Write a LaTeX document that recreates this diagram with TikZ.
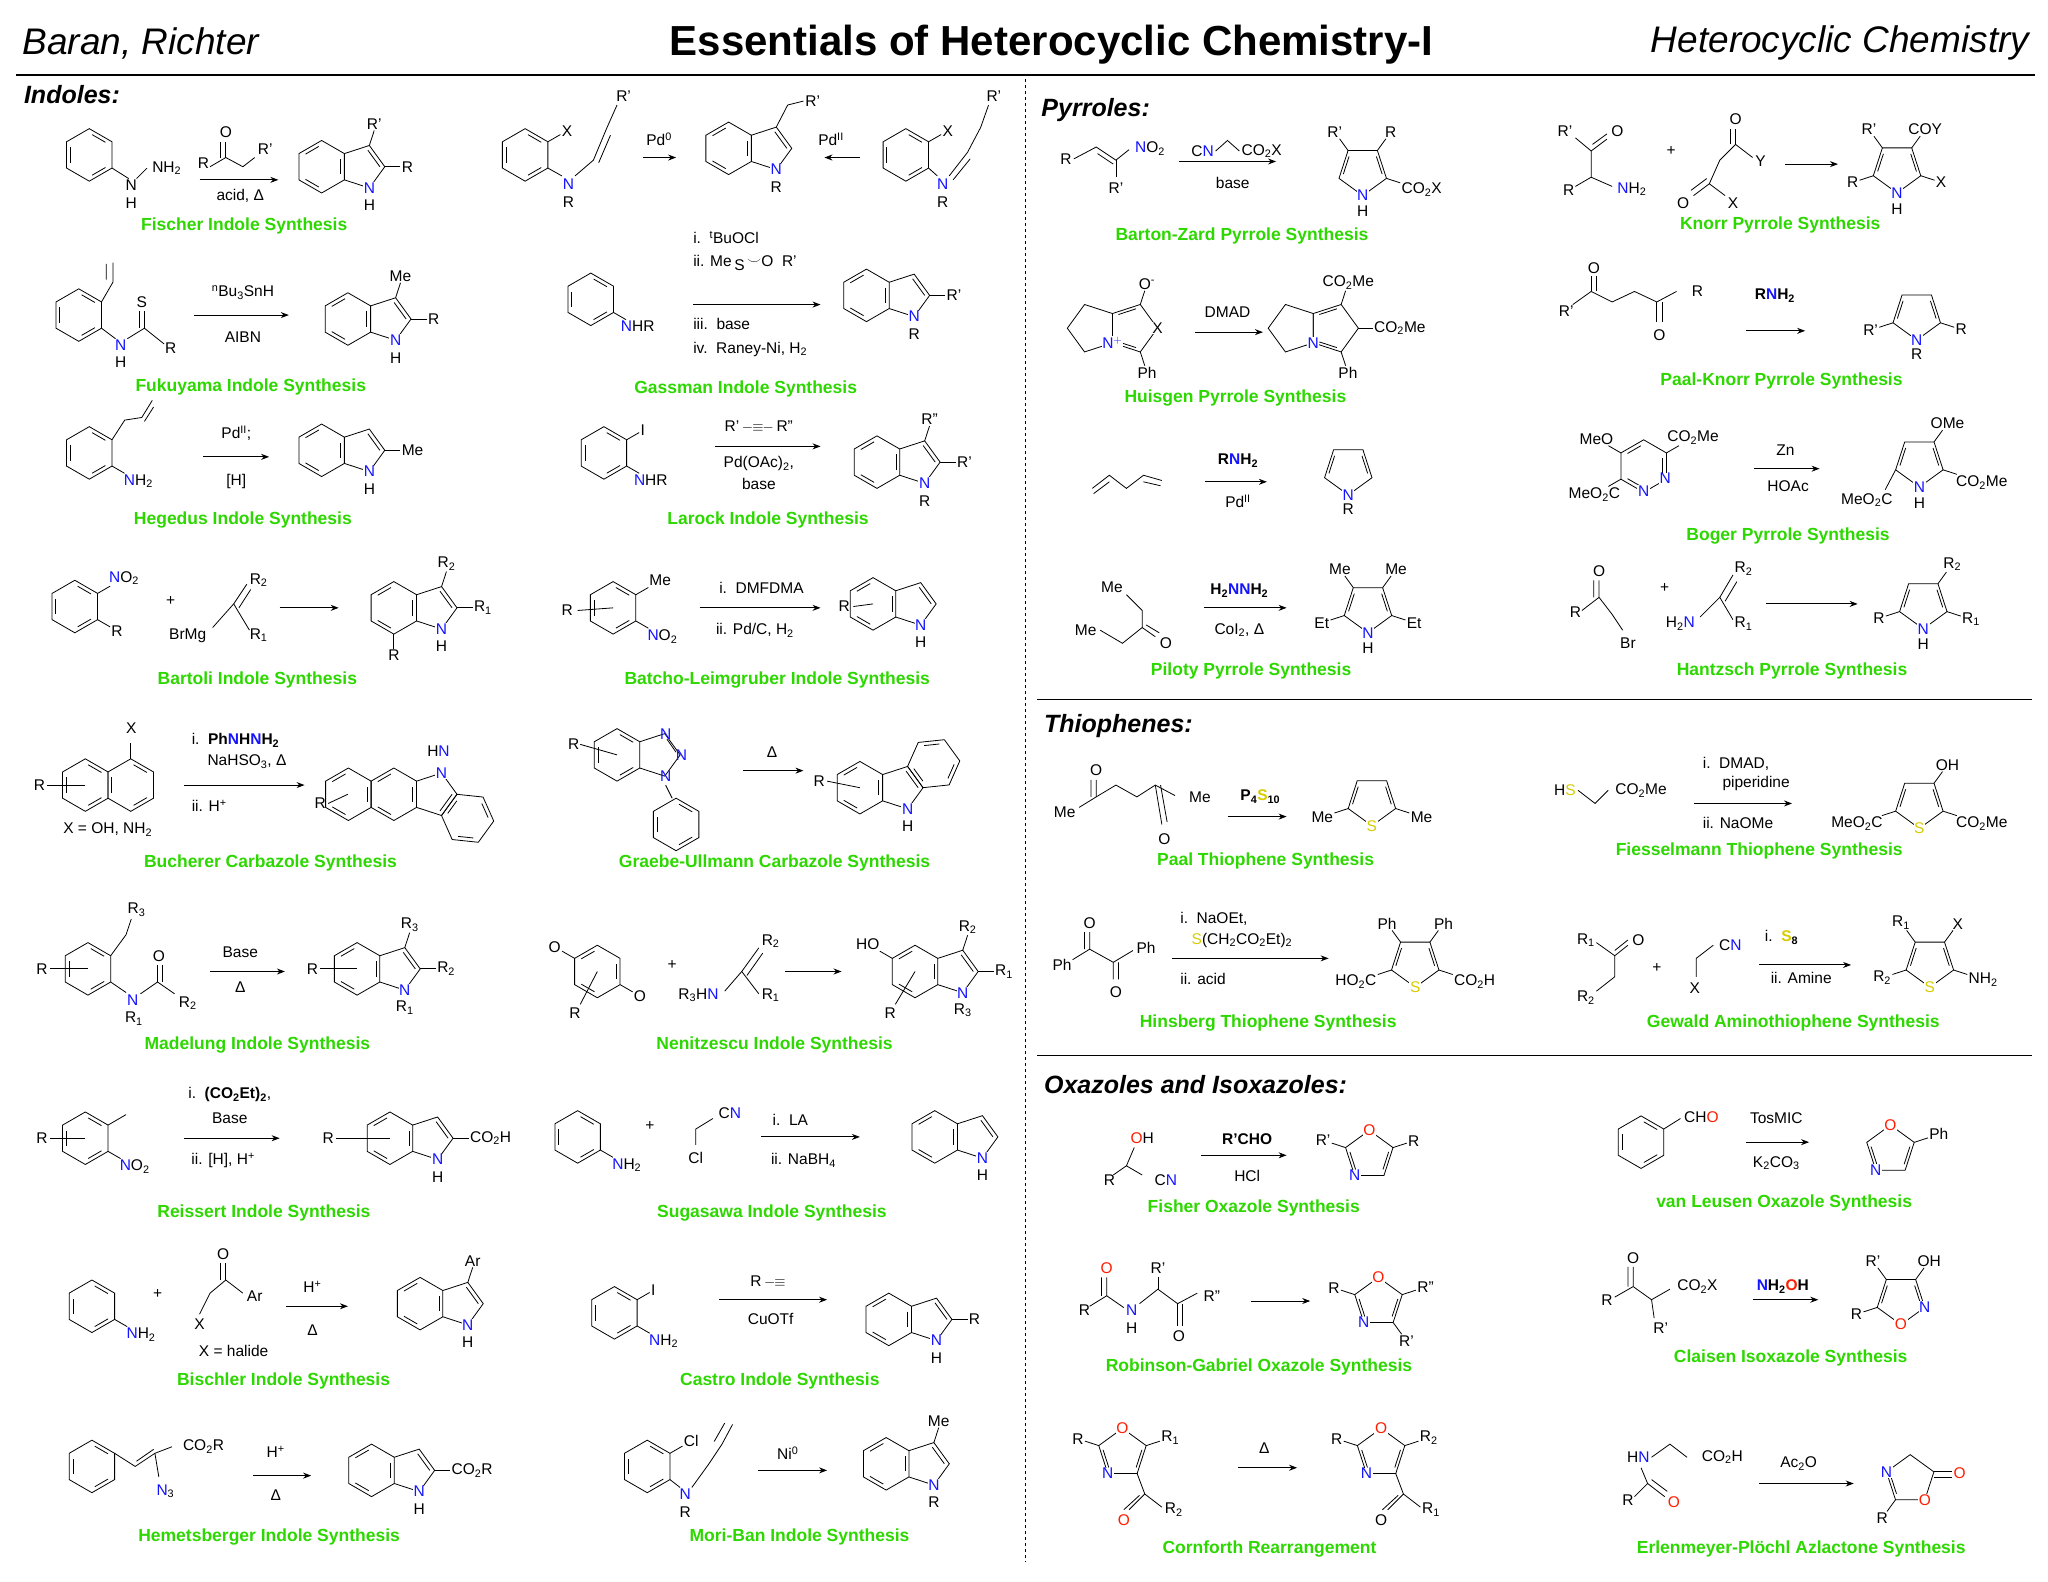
\documentclass[tikz,border=0pt]{standalone}
\usepackage{fontspec}
\setmainfont{Liberation Sans}
\usetikzlibrary{arrows.meta}
\definecolor{lg}{RGB}{45,215,0}
\definecolor{nb}{RGB}{20,20,255}
\definecolor{orr}{RGB}{255,30,0}
\definecolor{sy}{RGB}{215,205,0}
\newcommand\sbx[1]{\textsubscript{#1}}
\newcommand\su[1]{\textsuperscript{#1}}
\newcommand\Nb{\textcolor{nb}{N}}
\newcommand\Or{\textcolor{orr}{O}}
\newcommand\Sy{\textcolor{sy}{S}}
\newcommand\fs{\fontsize{15.5}{17}\selectfont}
\newcommand\Hex[2]{\begin{scope}[shift={(#1,#2)}]\draw (30:20)--(90:20)--(150:20)--(210:20)--(270:20)--(330:20)--cycle;\foreach \a in {30,150,270}{\draw (\a+8:15.6)--(\a+52:15.6);}\end{scope}}
\newcommand\HexR[3]{\begin{scope}[shift={(#1,#2)}]\draw (#3:20)--(#3+60:20)--(#3+120:20)--(#3+180:20)--(#3+240:20)--(#3+300:20)--cycle;\foreach \a in {60,180,300}{\draw (#3+\a+8:15.6)--(#3+\a+52:15.6);}\end{scope}}
\newcommand\Pent[3]{\begin{scope}[shift={(#1,#2)}]\draw (#3:19)--(#3+72:19)--(#3+144:19)--(#3+216:19)--(#3+288:19)--cycle;\draw (#3+80:15)--(#3+136:15);\draw (#3+224:15)--(#3+280:15);\end{scope}}
\newcommand\PentP[3]{\begin{scope}[shift={(#1,#2)}]\draw (#3:19)--(#3+72:19)--(#3+144:19)--(#3+216:19)--(#3+288:19)--cycle;\end{scope}}
\newcommand\Het[5]{\begin{scope}[shift={(#1,#2)}]\node[fill=white,inner sep=0.6pt,font=\fs,text=#5] at (#3:19) {#4};\end{scope}}
\newcommand\HS[4]{\begin{scope}[shift={(#1,#2)}]\pgfmathsetmacro\anc{180-#3}\draw (#3:20)--(#3:31);\node[font=\fs,inner sep=1pt,anchor=\anc] at (#3:31) {#4};\end{scope}}
\newcommand\PS[4]{\begin{scope}[shift={(#1,#2)}]\pgfmathsetmacro\anc{180-#3}\draw (#3:19)--(#3:30);\node[font=\fs,inner sep=1pt,anchor=\anc] at (#3:30) {#4};\end{scope}}
\newcommand\Indole[3]{\begin{scope}[shift={(#1,#2)}]\draw (30:20)--(90:20)--(150:20)--(210:20)--(270:20)--(330:20)--cycle;\foreach \a in {90,210,330}{\draw (\a+8:15.6)--(\a+52:15.6);}
\draw (17.32,-10)--(36.34,-16.19)--(48.1,0)--(36.34,16.19)--(17.32,10);\draw (35.18,-12.63)--(44.36,0);
\node[fill=white,inner sep=0.6pt,font=\fs,text=nb] at (36.34,16.19) {N};\node[font=\fs,inner sep=0.5pt] at (36.34,29.5) {#3};\end{scope}}
\newcommand\Ithree[3]{\begin{scope}[shift={(#1,#2)}]\draw (36.34,-16.19)--(40.05,-27.6);\node[font=\fs,anchor=south,inner sep=1pt] at (40.05,-27.6) {#3};\end{scope}}
\newcommand\Itwo[3]{\begin{scope}[shift={(#1,#2)}]\draw (48.1,0)--(60,0);\node[font=\fs,anchor=west,inner sep=1pt] at (60,0) {#3};\end{scope}}
\newcommand\Carb[3]{\Indole{#1}{#2}{#3}\begin{scope}[shift={(#1,#2)}]\HexR{56.2}{-18.3}{54}\end{scope}}
\newcommand\T[3]{\node[t] at (#1,#2) {#3};}
\newcommand\G[3]{\node[g] at (#1,#2) {#3};}
\newcommand\A[3]{\draw[arr] (#1,#3) -- (#2,#3);}
\begin{document}
\begin{tikzpicture}[x=1.3128pt,y=-1.3128pt,line width=0.8pt,
 t/.style={font=\fs,inner sep=1pt},
 g/.style={font=\fontsize{17.5}{20}\selectfont\bfseries,text=lg,inner sep=1pt},
 arr/.style={-{Stealth[length=8pt,width=6pt]},line width=0.9pt},
 sec/.style={font=\fontsize{25}{30}\selectfont\bfseries\itshape,anchor=west,inner sep=0}]
\useasboundingbox (0,0) rectangle (1560,1205);
\fill[white] (0,0) rectangle (1560,1205);
% header
\node[font=\fontsize{37}{42}\selectfont\itshape,anchor=west,inner sep=0] (h1) at (17,33) {Baran, Richter};
\node[font=\fontsize{42}{48}\selectfont\bfseries,inner sep=0] (h2) at (801,34) {Essentials of Heterocyclic Chemistry-I};
\node[font=\fontsize{37}{42}\selectfont\itshape,anchor=east,inner sep=0] (h3) at (1546,33) {Heterocyclic Chemistry};
\draw[line width=2.2pt] (12,57) -- (1550,57);
\draw[dashed,line width=0.9pt] (781,60) -- (781,1190);
\draw[line width=1.2pt] (790,533) -- (1548,533);
\draw[line width=1.2pt] (790,804) -- (1548,804);
\node[sec] (s1) at (18,72) {Indoles:};
\node[sec] (s2) at (793,84) {Pyrroles:};
\node[sec] (s3) at (795,553) {Thiophenes:};
\node[sec] (s4) at (795,826) {Oxazoles and Isoxazoles:};
% ===== Indoles
% Fischer
\Hex{68}{118}\draw (85.3,128)--(98,136);\draw (104,136)--(112,128);\T{127}{128}{NH\sbx2}\T{100}{141}{N}\T{100}{155}{H}
\A{152}{212}{137}\T{172}{101}{O}\draw (172,108)--(172,120)(168,108)--(168,120);\draw (160,127)--(172,120)--(185,127)--(194,120);\T{155}{124}{R}\T{202}{114}{R'}\T{183}{149}{acid, Δ}
\Indole{245}{127}{H}\Ithree{245}{127}{R'}\Itwo{245}{127}{R}
\G{186}{172}{Fischer Indole Synthesis}
% Pd
\Hex{400}{118}\HS{400}{118}{330}{X}\draw (417.3,128)--(428,134);\T{433}{140}{\Nb}\T{433}{154}{R}\draw (438,134)--(452,122)--(462,98)--(470,80)(456,124)--(465,103);\T{475}{73}{R'}
\A{490}{515}{120}\T{502}{106}{Pd\su0}
\Indole{555}{113}{R}\draw (591.3,96.8)--(600,80)--(612,77);\T{619}{77}{R'}
\A{655}{628}{120}\T{633}{106}{Pd\su{II}}
\Hex{690}{118}\HS{690}{118}{330}{X}\draw (707.3,128)--(714,134);\T{718}{140}{\Nb}\T{718}{154}{R}\draw (723,134)--(737,116)--(747,97)--(753,80);\draw (726,137)--(739,121);\T{757}{73}{R'}
% Fukuyama
\Hex{60}{240}\draw (77.3,230)--(86,215)--(86,200)(81,213)--(81,201);\draw (77.3,250)--(88,258);\T{92}{263}{\Nb}\T{92}{276}{H}\draw (97,258)--(110,250)--(125,262);\draw (110,250)--(110,237)(106,250)--(106,237);\T{108}{230}{S}\T{130}{265}{R}
\A{148}{220}{240}\T{185}{223}{\su{n}Bu\sbx3SnH}\T{185}{257}{AIBN}
\Indole{265}{243}{H}\Ithree{265}{243}{Me}\Itwo{265}{243}{R}
\G{191}{295}{Fukuyama Indole Synthesis}
% Gassman
\Hex{450}{228}\HS{450}{228}{30}{\Nb HR}
\node[t,anchor=west] at (527,181) {i.\ \ \su{t}BuOCl};
\node[t,anchor=west] at (527,200) {ii. Me\,\raisebox{-4pt}{S}\,\raisebox{2pt}{$\smile$}O\ \ R'};
\A{528}{625}{232}
\node[t,anchor=west] at (527,247) {iii.\ \ base};
\node[t,anchor=west] at (527,266) {iv.\ \ Raney-Ni, H\sbx2};
\Indole{660}{225}{R}\Itwo{660}{225}{R'}
\G{568}{296}{Gassman Indole Synthesis}
% Hegedus
\Hex{68}{345}\draw (85.3,335)--(95,320)--(108,318)--(116,305)(110,321)--(117,310);\HS{68}{345}{30}{\Nb H\sbx2}
\A{155}{205}{348}\T{180}{330}{Pd\su{II};}\T{180}{367}{[H]}
\Indole{245}{343}{H}\Itwo{245}{343}{Me}
\G{185}{396}{Hegedus Indole Synthesis}
% Larock
\Hex{460}{345}\HS{460}{345}{330}{I}\HS{460}{345}{30}{\Nb HR}
\A{545}{625}{340}\T{578}{325}{R'\,$-\!\!\equiv\!\!-$\,R''}\T{578}{353}{Pd(OAc)\sbx2,}\T{578}{369}{base}
\Indole{668}{352}{R}\Ithree{668}{352}{R''}\Itwo{668}{352}{R'}
\G{585}{396}{Larock Indole Synthesis}
% Bartoli
\Hex{57}{462}\HS{57}{462}{330}{\Nb O\sbx2}\HS{57}{462}{30}{R}
\T{130}{458}{+}\T{143}{484}{BrMg}\draw (162,478)--(178,460)--(188,445)(182,463)--(191,449);\draw (178,460)--(190,480);\T{197}{442}{R\sbx2}\T{197}{484}{R\sbx1}
\A{213}{258}{463}
\Indole{300}{463}{H}\Ithree{300}{463}{R\sbx2}\Itwo{300}{463}{R\sbx1}\HS{300}{463}{90}{R}
\G{196}{518}{Bartoli Indole Synthesis}
% Batcho
\Hex{467}{463}\draw (467,463)--(440,465);\T{432}{465}{R}\HS{467}{463}{330}{Me}\HS{467}{463}{30}{\Nb O\sbx2}
\A{533}{625}{463}\T{580}{448}{i.\ \ DMFDMA}\T{575}{480}{ii. Pd/C, H\sbx2}
\Indole{665}{460}{H}\draw (665,460)--(650,462);\T{643}{462}{R}
\G{592}{518}{Batcho-Leimgruber Indole Synthesis}
% Bucherer
\Hex{65}{598}\Hex{99.6}{598}\draw (99.6,578)--(99.6,566);\T{100}{555}{X}\draw (65,598)--(36,598);\T{30}{598}{R}\T{82}{632}{X = OH, NH\sbx2}
\A{140}{232}{598}\node[t,anchor=west] at (145,564) {i.\ \ \textbf{Ph\Nb H\Nb H\sbx2}};\node[t,anchor=west] at (157,580) {NaHSO\sbx3, Δ};\node[t,anchor=west] at (145,614) {ii. H\su+};
\begin{scope}[shift={(300,605)},yscale=-1]\Carb{0}{0}{}\HexR{-34.64}{0}{30}\end{scope}\T{334}{572}{H\Nb}\draw (265,605)--(250,612);\T{244}{612}{R}
\G{206}{657}{Bucherer Carbazole Synthesis}
% Graebe
\Hex{470}{575}\begin{scope}[shift={(470,575)}]\draw (17.32,-10)--(36.34,-16.19)--(48.1,0)--(36.34,16.19)--(17.32,10);\draw (38,-12)--(45,-2);\end{scope}
\T{507}{559}{\Nb}\T{519}{575}{\Nb}\T{507}{591}{\Nb}\draw (507,598)--(512,608);\Hex{515}{628}\draw (470,575)--(442,567);\T{437}{567}{R}
\A{566}{612}{587}\T{588}{573}{Δ}
\Carb{655}{600}{H}\draw (655,600)--(630,595);\T{624}{595}{R}
\G{590}{657}{Graebe-Ullmann Carbazole Synthesis}
% Madelung
\Hex{67}{738}\draw (67,738)--(38,738);\T{32}{738}{R}\draw (84.3,728)--(96,712)--(100,700);\T{104}{693}{R\sbx3}\draw (84.3,748)--(96,756);\T{101}{762}{\Nb}\T{102}{776}{R\sbx1}\draw (107,757)--(120,748)--(133,757);\draw (120,748)--(120,735)(124,748)--(124,735);\T{121}{728}{O}\T{143}{764}{R\sbx2}
\A{160}{217}{740}\T{183}{725}{Base}\T{183}{752}{Δ}
\Indole{272}{738}{R\sbx1}\Ithree{272}{738}{R\sbx3}\Itwo{272}{738}{R\sbx2}\draw (272,738)--(244,738);\T{238}{738}{R}
\G{196}{796}{Madelung Indole Synthesis}
% Nenitzescu
\HexR{455}{740}{30}\HS{455}{740}{210}{O}\HS{455}{740}{30}{O}\draw (455,740)--(442,765);\T{438}{772}{R}
\T{512}{735}{+}\T{532}{758}{R\sbx3H\Nb}\draw (552,755)--(565,740)--(578,722)(569,743)--(581,726);\draw (565,740)--(578,757);\T{587}{717}{R\sbx2}\T{587}{758}{R\sbx1}
\A{598}{641}{740}
\Indole{697}{740}{R\sbx3}\Ithree{697}{740}{R\sbx2}\Itwo{697}{740}{R\sbx1}\HS{697}{740}{210}{HO}\draw (697,740)--(682,765);\T{678}{772}{R}
\G{590}{796}{Nenitzescu Indole Synthesis}
% Reissert
\Hex{65}{867}\draw (65,867)--(38,867);\T{32}{867}{R}\draw (82.3,857)--(96,849);\HS{65}{867}{30}{\Nb O\sbx2}
\A{140}{213}{867}\T{175}{834}{i.\ \ \textbf{(CO\sbx2Et)\sbx2},}\T{175}{852}{Base}\T{170}{884}{ii. [H], H\su+}
\Indole{297}{867}{H}\draw (297,867)--(256,867);\T{250}{867}{R}\Itwo{297}{867}{CO\sbx2H}
\G{201}{924}{Reissert Indole Synthesis}
% Sugasawa
\Hex{440}{866}\HS{440}{866}{30}{\Nb H\sbx2}
\T{495}{858}{+}\draw (530,872)--(530,860)--(543,852);\T{556}{848}{C\Nb}\T{530}{882}{Cl}
\A{580}{655}{866}\T{602}{853}{i.\ \ LA}\T{612}{884}{ii. NaBH\sbx4}
\Indole{712}{866}{H}
\G{588}{924}{Sugasawa Indole Synthesis}
% Bischler
\Hex{70}{995}\HS{70}{995}{30}{\Nb H\sbx2}
\T{120}{986}{+}\draw (152,1001)--(160,985)--(172,975)--(185,985);\draw (172,975)--(172,962)(168,975)--(168,962);\T{170}{955}{O}\T{194}{987}{Ar}\T{152}{1009}{X}\T{178}{1029}{X = halide}
\A{218}{265}{995}\T{238}{980}{H\su+}\T{238}{1013}{Δ}
\Indole{320}{993}{H}\Ithree{320}{993}{Ar}
\G{216}{1052}{Bischler Indole Synthesis}
% Castro
\Hex{468}{1000}\HS{468}{1000}{330}{I}\HS{468}{1000}{30}{\Nb H\sbx2}
\A{548}{630}{990}\T{585}{976}{R\,$-\!\!\equiv$}\T{587}{1005}{CuOTf}
\Indole{677}{1005}{H}\Itwo{677}{1005}{R}
\G{594}{1052}{Castro Indole Synthesis}
% Hemetsberger
\Hex{70}{1117}\draw (87.3,1107)--(103,1117)--(118,1107)--(131,1102)(104,1113)--(117,1104);\draw (118,1107)--(121,1125);\T{155}{1102}{CO\sbx2R}\T{126}{1136}{\Nb\sbx3}
\A{193}{237}{1124}\T{210}{1106}{H\su+}\T{210}{1139}{Δ}
\Indole{283}{1120}{H}\Itwo{283}{1120}{CO\sbx2R}
\G{205}{1171}{Hemetsberger Indole Synthesis}
% Mori-Ban
\Hex{493}{1117}\HS{493}{1117}{330}{Cl}\draw (510.3,1127)--(518,1133);\T{522}{1138}{\Nb}\T{522}{1152}{R}\draw (527,1133)--(540,1115)--(550,1100)--(558,1085)(544,1098)--(552,1084);
\A{577}{630}{1120}\T{600}{1107}{Ni\su0}
\Indole{675}{1115}{R}\Ithree{675}{1115}{Me}
\G{609}{1171}{Mori-Ban Indole Synthesis}
% ===== Pyrroles
\T{812}{121}{R}\draw (818,121)--(835,112)--(850,122)--(860,114)(836,117)--(848,125);\draw (850,122)--(850,135);\T{876}{113}{\Nb O\sbx2}\T{850}{143}{R'}
\A{898}{972}{123}\T{916}{115}{C\Nb}\draw (926,115)--(935,107)--(944,115);\T{961}{115}{CO\sbx2X}\T{939}{139}{base}
\Pent{1038}{130}{90}\Het{1038}{130}{90}{N}{nb}\T{1038}{161}{H}\PS{1038}{130}{234}{R'}\PS{1038}{130}{306}{R}\PS{1038}{130}{18}{CO\sbx2X}
\G{946}{180}{Barton-Zard Pyrrole Synthesis}
\T{1192}{100}{R'}\draw (1200,105)--(1212,115)--(1224,106)(1213,110)--(1224,102);\draw (1212,115)--(1212,135)--(1200,142)(1212,135)--(1228,142);\T{1232}{100}{O}\T{1195}{145}{R}\T{1243}{144}{\Nb H\sbx2}
\T{1273}{115}{+}\draw (1302,140)--(1310,122)--(1322,110)--(1335,120);\draw (1322,110)--(1322,98)(1318,110)--(1318,98);\draw (1302,140)--(1290,149)(1300,136)--(1288,145);\draw (1302,140)--(1314,149);\T{1322}{91}{O}\T{1341}{123}{Y}\T{1282}{155}{O}\T{1320}{155}{X}
\A{1360}{1400}{125}
\Pent{1445}{128}{90}\Het{1445}{128}{90}{N}{nb}\T{1445}{159}{H}\PS{1445}{128}{234}{R'}\PS{1445}{128}{306}{COY}\PS{1445}{128}{18}{X}\PS{1445}{128}{162}{R}
\G{1356}{171}{Knorr Pyrrole Synthesis}
% Huisgen
\PentP{832}{250}{180}\Pent{862.7}{250}{0}\Het{862.7}{250}{144}{N$^+$}{nb}\Het{862.7}{250}{0}{X}{black}\PS{862.7}{250}{288}{O\su-}\PS{862.7}{250}{72}{Ph}
\A{910}{962}{253}\T{935}{238}{DMAD}
\PentP{985}{250}{180}\Pent{1015.7}{250}{0}\Het{1015.7}{250}{144}{N}{nb}\PS{1015.7}{250}{288}{CO\sbx2Me}\PS{1015.7}{250}{0}{CO\sbx2Me}\PS{1015.7}{250}{72}{Ph}
\G{941}{303}{Huisgen Pyrrole Synthesis}
% Paal-Knorr
\draw (1198,232)--(1212,222)--(1228,230)--(1245,222)--(1262,230)--(1277,222);\draw (1212,222)--(1212,210)(1216,222)--(1216,210);\draw (1262,230)--(1262,245)(1266,230)--(1266,245);\T{1214}{204}{O}\T{1193}{237}{R'}\T{1264}{255}{O}\T{1293}{222}{R}
\A{1330}{1375}{252}\T{1352}{225}{\textbf{R\Nb H\sbx2}}
\Pent{1460}{240}{90}\Het{1460}{240}{90}{N}{nb}\T{1460}{270}{R}\PS{1460}{240}{162}{R'}\PS{1460}{240}{18}{R}
\G{1357}{290}{Paal-Knorr Pyrrole Synthesis}
% Boger
\HexR{1252}{355}{30}\Het{1252}{355}{90}{N}{nb}\Het{1252}{355}{30}{N}{nb}\HS{1252}{355}{210}{MeO}\HS{1252}{355}{330}{CO\sbx2Me}\HS{1252}{355}{150}{MeO\sbx2C}
\A{1336}{1386}{357}\T{1360}{343}{Zn}\T{1362}{370}{HOAc}
\Pent{1462}{352}{90}\Het{1462}{352}{90}{N}{nb}\T{1462}{383}{H}\PS{1462}{352}{306}{OMe}\PS{1462}{352}{18}{CO\sbx2Me}\draw (1443.9,357.9)--(1436,373);\T{1422}{381}{MeO\sbx2C}
\G{1362}{408}{Boger Pyrrole Synthesis}
% diene
\draw (832,372)--(845,362)--(858,372)--(871,362)--(885,366);\draw (833,376)--(845,367);\draw (871,367)--(884,370);
\A{918}{965}{367}\T{943}{351}{\textbf{R\Nb H\sbx2}}\T{943}{382}{Pd\su{II}}
\Pent{1027}{358}{90}\Het{1027}{358}{90}{N}{nb}\T{1027}{388}{R}
% Piloty
\T{847}{447}{Me}\draw (858,453)--(870,465)--(870,478)--(880,485);\draw (838,480)--(855,490)--(870,478);\draw (873,476)--(883,482);\T{827}{480}{Me}\T{888}{490}{O}
\A{917}{980}{463}\T{944}{450}{\textbf{H\sbx2\Nb\Nb H\sbx2}}\T{944}{480}{CoI\sbx2, Δ}
\Pent{1042}{463}{90}\Het{1042}{463}{90}{N}{nb}\T{1042}{494}{H}\PS{1042}{463}{234}{Me}\PS{1042}{463}{306}{Me}\PS{1042}{463}{18}{Et}\PS{1042}{463}{162}{Et}
\G{953}{511}{Piloty Pyrrole Synthesis}
% Hantzsch
\T{1218}{435}{O}\draw (1218,442)--(1218,455)--(1228,468)--(1236,480)(1214,442)--(1214,455);\draw (1218,455)--(1205,465);\T{1200}{466}{R}\T{1240}{490}{Br}
\T{1268}{448}{+}\T{1280}{475}{H\sbx2\Nb}\draw (1295,470)--(1310,455)--(1320,438)(1314,458)--(1323,443);\draw (1310,455)--(1320,472);\T{1328}{433}{R\sbx2}\T{1328}{475}{R\sbx1}
\A{1345}{1415}{460}
\Pent{1465}{460}{90}\Het{1465}{460}{90}{N}{nb}\T{1465}{491}{H}\PS{1465}{460}{306}{R\sbx2}\PS{1465}{460}{18}{R\sbx1}\PS{1465}{460}{162}{R}
\G{1365}{511}{Hantzsch Pyrrole Synthesis}
% ===== Thiophenes
\T{835}{587}{O}\draw (835,594)--(835,607)--(822,615)(831,594)--(831,607);\draw (835,607)--(850,598)--(866,607)--(880,598)--(895,606);\draw (880,598)--(885,628)(884,598)--(889,626);\T{811}{619}{Me}\T{887}{639}{O}\T{914}{607}{Me}
\A{935}{980}{622}\T{960}{607}{\textbf{P\sbx4\Sy\sbx{10}}}
\Pent{1045}{610}{90}\Het{1045}{610}{90}{S}{sy}\PS{1045}{610}{162}{Me}\PS{1045}{610}{18}{Me}
\G{964}{656}{Paal Thiophene Synthesis}
\T{1192}{602}{H\Sy}\draw (1202,602)--(1215,612)--(1225,602);\T{1250}{602}{CO\sbx2Me}
\A{1290}{1365}{612}\node[t,anchor=west] at (1296,582) {i.\ \ DMAD,};\node[t,anchor=west] at (1311,597) {piperidine};\node[t,anchor=west] at (1296,627) {ii. NaOMe};
\Pent{1462}{612}{90}\Het{1462}{612}{90}{S}{sy}\PS{1462}{612}{306}{OH}\PS{1462}{612}{18}{CO\sbx2Me}\PS{1462}{612}{162}{MeO\sbx2C}
\G{1340}{648}{Fiesselmann Thiophene Synthesis}
\T{830}{703}{O}\draw (830,710)--(830,723)--(817,731)(826,710)--(826,723)(830,723)--(848,733)--(848,746)(852,733)--(852,746)(848,733)--(863,724);\T{809}{735}{Ph}\T{873}{722}{Ph}\T{850}{756}{O}
\A{893}{1012}{730}\node[t,anchor=west] at (898,700) {i.\ \ NaOEt,};\T{946}{716}{\Sy(CH\sbx2CO\sbx2Et)\sbx2}\node[t,anchor=west] at (898,746) {ii. acid};
\Pent{1078}{733}{90}\Het{1078}{733}{90}{S}{sy}\PS{1078}{733}{234}{Ph}\PS{1078}{733}{306}{Ph}\PS{1078}{733}{18}{CO\sbx2H}\PS{1078}{733}{162}{HO\sbx2C}
\G{966}{779}{Hinsberg Thiophene Synthesis}
\T{1208}{716}{R\sbx1}\draw (1216,718)--(1230,728)--(1240,720)(1230,724)--(1240,716);\draw (1230,728)--(1230,744)--(1216,755);\T{1248}{716}{O}\T{1208}{760}{R\sbx2}
\T{1262}{737}{+}\draw (1292,744)--(1292,730)--(1305,720);\T{1318}{720}{C\Nb}\T{1291}{753}{X}
\A{1340}{1410}{735}\T{1357}{714}{i.\ \ \textbf{\Sy\sbx8}}\T{1372}{745}{ii. Amine}
\Pent{1470}{733}{90}\Het{1470}{733}{90}{S}{sy}\PS{1470}{733}{234}{R\sbx1}\PS{1470}{733}{306}{X}\PS{1470}{733}{18}{NH\sbx2}\PS{1470}{733}{162}{R\sbx2}
\G{1366}{779}{Gewald Aminothiophene Synthesis}
% ===== Oxazoles
\T{870}{867}{\Or H}\draw (864,874)--(858,888)--(848,895)(858,888)--(870,895);\T{845}{899}{R}\T{888}{899}{C\Nb}
\A{915}{980}{880}\T{950}{868}{\textbf{R'CHO}}\T{950}{896}{HCl}
\Pent{1043}{880}{-90}\Het{1043}{880}{-90}{O}{orr}\Het{1043}{880}{126}{N}{nb}\PS{1043}{880}{198}{R'}\PS{1043}{880}{-18}{R}
\G{955}{920}{Fisher Oxazole Synthesis}
\Hex{1250}{870}\draw (1267.3,860)--(1280,852);\T{1296}{851}{CH\Or}
\A{1330}{1378}{870}\T{1353}{852}{TosMIC}\T{1353}{886}{K\sbx2CO\sbx3}
\Pent{1440}{876}{-90}\Het{1440}{876}{-90}{O}{orr}\Het{1440}{876}{126}{N}{nb}\PS{1440}{876}{-18}{Ph}
\G{1359}{916}{van Leusen Oxazole Synthesis}
\T{843}{966}{\Or}\draw (843,973)--(843,987)--(830,995)(839,973)--(839,987)(843,987)--(856,996);\T{826}{998}{R}\T{862}{998}{\Nb}\T{862}{1012}{H}\draw (868,993)--(882,982)--(897,993)--(912,985);\draw (897,993)--(897,1010)(901,993)--(901,1010);\draw (882,982)--(882,973);\T{882}{966}{R'}\T{923}{987}{R''}\T{898}{1018}{O}
\A{953}{998}{991}
\Pent{1050}{992}{-90}\Het{1050}{992}{-90}{O}{orr}\Het{1050}{992}{126}{N}{nb}\PS{1050}{992}{198}{R}\PS{1050}{992}{-18}{R''}\PS{1050}{992}{54}{R'}
\G{959}{1041}{Robinson-Gabriel Oxazole Synthesis}
\T{1244}{958}{O}\draw (1244,965)--(1244,980)--(1230,988)(1240,965)--(1240,980)(1244,980)--(1258,990)--(1272,982);\draw (1258,990)--(1260,1004);\T{1224}{990}{R}\T{1293}{980}{CO\sbx2X}\T{1265}{1012}{R'}
\A{1335}{1385}{990}\T{1358}{980}{\textbf{\Nb H\sbx2\Or H}}
\Pent{1448}{990}{90}\Het{1448}{990}{90}{O}{orr}\Het{1448}{990}{18}{N}{nb}\PS{1448}{990}{306}{OH}\PS{1448}{990}{234}{R'}\PS{1448}{990}{162}{R}
\G{1364}{1034}{Claisen Isoxazole Synthesis}
\Pent{855}{1107}{-90}\Het{855}{1107}{-90}{O}{orr}\Het{855}{1107}{126}{N}{nb}\PS{855}{1107}{198}{R}\PS{855}{1107}{-18}{R\sbx1}\draw (866,1122)--(872,1138)--(860,1150)(868,1139)--(856,1150)(872,1138)--(885,1148);\T{856}{1158}{\Or}\T{894}{1150}{R\sbx2}
\A{943}{988}{1118}\T{963}{1103}{Δ}
\Pent{1052}{1107}{-90}\Het{1052}{1107}{-90}{O}{orr}\Het{1052}{1107}{126}{N}{nb}\PS{1052}{1107}{198}{R}\PS{1052}{1107}{-18}{R\sbx2}\draw (1063,1122)--(1069,1138)--(1057,1150)(1065,1139)--(1053,1150)(1069,1138)--(1082,1148);\T{1052}{1158}{O}\T{1090}{1150}{R\sbx1}
\G{967}{1180}{Cornforth Rearrangement}
\T{1248}{1110}{H\Nb}\draw (1258,1110)--(1272,1100)--(1285,1110);\T{1312}{1110}{CO\sbx2H}\draw (1250,1118)--(1255,1130)--(1245,1140)(1255,1130)--(1268,1140)(1258,1127)--(1270,1136);\T{1240}{1143}{R}\T{1275}{1144}{\Or}
\A{1340}{1412}{1130}\T{1370}{1115}{Ac\sbx2O}
\begin{scope}[shift={(1455,1127)}]\draw (-90:19)--(-18:19)--(54:19)--(126:19)--(198:19)--cycle;\draw (134:15)--(190:15);\draw (-18:19)--++(14,0);\draw (-18:19)++(0,4)--++(14,0);\end{scope}
\Het{1455}{1127}{198}{N}{nb}\Het{1455}{1127}{54}{O}{orr}\node[t,text=orr,anchor=west] at (1487,1122) {O};\PS{1455}{1127}{126}{R}
\G{1372}{1180}{Erlenmeyer-Plöchl Azlactone Synthesis}
\end{tikzpicture}
\end{document}
